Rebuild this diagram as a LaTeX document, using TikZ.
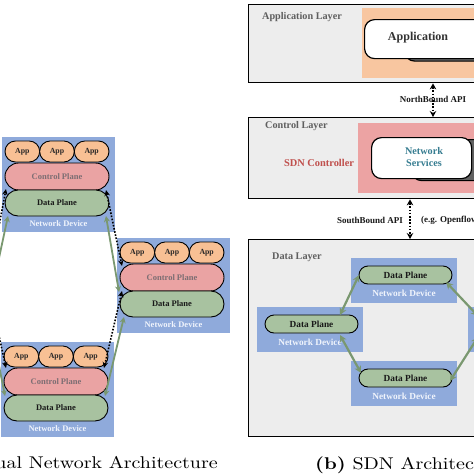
\documentclass[tikz,border=0pt]{standalone}
\usepackage{fontspec}
\usepackage{graphicx}
\newfontfamily\dfont{Liberation Serif}
\usetikzlibrary{shapes.misc,arrows.meta,calc}
\definecolor{devblue}{RGB}{143,170,219}
\definecolor{apporange}{RGB}{248,192,148}
\definecolor{cppink}{RGB}{234,163,163}
\definecolor{dpgreen}{RGB}{168,194,160}
\definecolor{arrgreen}{RGB}{122,152,112}
\definecolor{layergray}{RGB}{237,237,237}
\definecolor{laborange}{RGB}{248,198,160}
\definecolor{labpink}{RGB}{236,163,163}
\definecolor{sdnred}{RGB}{192,80,77}
\definecolor{nstext}{RGB}{55,125,145}
\definecolor{laytext}{RGB}{95,95,95}
\definecolor{cptext}{RGB}{125,110,115}
\definecolor{ndtext}{RGB}{240,244,252}

\newcommand\tradev[3]{%
  \node[devbox, minimum width=113, minimum height=95] (#1) at (#2,#3) {};
  \node[apppill] (#1a1) at ($(#1.north west)+(20.33,14.5)$) {App};
  \node[apppill] (#1a2) at ($(#1.north west)+(55,14.5)$) {App};
  \node[apppill] (#1a3) at ($(#1.north west)+(89.67,14.5)$) {App};
  \node[cppill] (#1c) at ($(#1.north west)+(55,39.5)$) {Control Plane};
  \node[dppill] (#1d) at ($(#1.north west)+(55,66)$) {Data Plane};
  \node[ndlabel] (#1l) at ($(#1.north west)+(56.5,87)$) {Network Device};
}
\newcommand\sdndev[3]{%
  \node[devbox, minimum width=106, minimum height=45] (#1) at (#2,#3) {};
  \node[dlpill] (#1d) at ($(#1.north west)+(54.5,17)$) {Data Plane};
  \node[dllabel] (#1l) at ($(#1.north west)+(53,35)$) {Network Device};
}

\begin{document}
\begin{tikzpicture}[x=1pt,y=-1pt,
  font=\dfont\bfseries,
  devbox/.style={fill=devblue, draw=none, inner sep=0pt, anchor=north west},
  pillbase/.style={rounded rectangle, draw=black, line width=0.9pt, inner sep=0pt},
  apppill/.style={pillbase, fill=apporange, minimum width=34.67, minimum height=21,
    font=\dfont\bfseries\fontsize{7.8}{9}\selectfont, text=black!85},
  cppill/.style={pillbase, fill=cppink, minimum width=104, minimum height=27,
    font=\dfont\bfseries\fontsize{8.5}{10}\selectfont, text=cptext},
  dppill/.style={pillbase, fill=dpgreen, minimum width=104, minimum height=26,
    font=\dfont\bfseries\fontsize{8.5}{10}\selectfont, text=black!90},
  ndlabel/.style={inner sep=0pt, font=\dfont\bfseries\fontsize{8.5}{10}\selectfont, text=ndtext},
  dlpill/.style={pillbase, fill=dpgreen, minimum width=93, minimum height=18,
    font=\dfont\bfseries\fontsize{9.3}{11}\selectfont, text=black!90},
  dllabel/.style={inner sep=0pt, font=\dfont\bfseries\fontsize{9.3}{11}\selectfont, text=ndtext},
  ctrlarrow/.style={{Stealth[length=6pt,width=5.5pt]}-{Stealth[length=6pt,width=5.5pt]},
    line width=1.6pt, dash pattern=on 1.6pt off 1.6pt, black},
  dataarrow/.style={{Stealth[length=6pt,width=6pt]}-{Stealth[length=6pt,width=6pt]},
    line width=1.8pt, arrgreen},
  dlarrow/.style={{Stealth[length=7pt,width=7pt]}-{Stealth[length=7pt,width=7pt]},
    line width=2.2pt, arrgreen},
  apiarrow/.style={{Stealth[length=6pt,width=6.5pt]}-{Stealth[length=6pt,width=6.5pt]},
    line width=1.6pt, dash pattern=on 1.6pt off 1.6pt, black},
  layerbox/.style={fill=layergray, draw=black, line width=1.4pt, anchor=north west, inner sep=0pt},
  laylabel/.style={anchor=west, inner sep=0pt, font=\dfont\bfseries\fontsize{10.2}{12}\selectfont, text=laytext},
  svcbox/.style={rectangle, rounded corners=10pt, draw=black, line width=1.2pt, fill=white,
    anchor=north west, inner sep=0pt},
  svcshadow/.style={svcbox, fill=black!62},
  apilabel/.style={inner sep=0pt, font=\dfont\bfseries\fontsize{9}{11}\selectfont, text=black!90}
]
\useasboundingbox (0,0) rectangle (474,474);
\clip (0,0) rectangle (474,474);
\fill[white] (0,0) rectangle (474,474);

% ---------- left: traditional devices ----------
\tradev{d1}{2}{137}
\tradev{d2}{117}{238}
\tradev{d3}{1}{342}

\coordinate (L1) at (-9,268);
\coordinate (L2) at (-11,290);
\coordinate (L3) at (-10,300);
\coordinate (L4) at (-8,330);

\draw[dataarrow] ($(d1d.center)+(49,13)$) -- ($(d2d.center)+(-53,-12)$);
\draw[dataarrow] ($(d2d.center)+(-48,13)$) -- ($(d3d.center)+(49,-12)$);
\draw[dataarrow] (L3) -- ($(d1d.center)+(-49,13)$);
\draw[dataarrow] (L4) -- ($(d3d.center)+(-51,-12)$);

\draw[ctrlarrow] ($(d1c.center)+(49,13.5)$) -- ($(d2c.center)+(-50,-11.5)$);
\draw[ctrlarrow] ($(d2c.center)+(-50,13.5)$) -- ($(d3c.center)+(48,-13.5)$);
\draw[ctrlarrow] (L1) -- ($(d1c.center)+(-51,12.5)$);
\draw[ctrlarrow] (L2) -- ($(d3c.center)+(-50,-13.5)$);

\node[anchor=base east, inner sep=0pt, font=\normalfont\fontsize{10}{12}\selectfont] (capa) at (218,468)
  {\scalebox{2.0}[1.7]{ual Network Architecture}};

% ---------- right: SDN ----------
\node[layerbox, minimum width=312, minimum height=78] (appl) at (248,4) {};
\node[anchor=north west, fill=laborange, minimum width=200, minimum height=70, inner sep=0pt] (appor) at (362,8) {};
\node[svcshadow, minimum width=176, minimum height=39] (appsh) at (404,21.5) {};
\node[svcbox, minimum width=176, minimum height=39] (appbox) at (364,19) {};
\node[inner sep=0pt, font=\dfont\bfseries\fontsize{12}{14}\selectfont, text=black!80] (apptxt) at (418,38) {Application};
\node[laylabel] (appll) at (262,17) {Application Layer};

\node[layerbox, minimum width=312, minimum height=81] (ctrl) at (248,117) {};
\node[anchor=north west, fill=labpink, minimum width=202, minimum height=70, inner sep=0pt] (ctpk) at (358,123) {};
\node[svcshadow, minimum width=100, minimum height=41] (nssh) at (411,139) {};
\node[svcbox, minimum width=100, minimum height=41] (nsbox) at (371,137) {};
\node[inner sep=0pt, align=center, font=\dfont\bfseries\fontsize{10.2}{12}\selectfont, text=nstext] (nstxt) at (424,157) {Network\\Services};
\node[inner sep=0pt, font=\dfont\bfseries\fontsize{10.4}{12}\selectfont, text=sdnred] (sdn) at (319,163) {SDN Controller};
\node[laylabel] (ctll) at (265,126) {Control Layer};

\node[layerbox, minimum width=312, minimum height=197] (datal) at (248,239) {};
\node[laylabel] (datll) at (272,257) {Data Layer};

\sdndev{s1}{351}{258}
\sdndev{s2}{257}{307}
\sdndev{s3}{351}{361}
% fourth device, almost entirely beyond the right edge: only its blue box shows
\node[devbox, minimum width=106, minimum height=45] (s4) at (468,307) {};
\node[pillbase, fill=dpgreen, minimum width=93, minimum height=18] (s4d) at ($(s4.north west)+(54.5,17)$) {};

\draw[dlarrow] ($(s2d.center)+(28.5,-9)$) -- ($(s1d.center)+(-46.5,0)$);
\draw[dlarrow] ($(s1d.center)+(40.5,7)$) -- ($(s4d.center)+(-44.5,-8)$);
\draw[dlarrow] ($(s2d.center)+(28.5,11)$) -- ($(s3d.center)+(-44.5,-5)$);
\draw[dlarrow] ($(s3d.center)+(44.5,3)$) -- ($(s4d.center)+(-44.5,13)$);

\draw[apiarrow] ($(appl.south west)+(185,0)$) -- ($(ctrl.north west)+(185,0)$);
\node[apilabel] (nb) at (433,99) {NorthBound API};
\draw[apiarrow] ($(ctrl.south west)+(162,0)$) -- ($(datal.north west)+(162,0)$);
\node[apilabel, anchor=east] (sb) at (403,220) {SouthBound API};
\node[apilabel, anchor=west] (eg) at (421,220) {(e.g. Openflow)};

\node[anchor=base west, inner sep=0pt, font=\normalfont\fontsize{10}{12}\selectfont] (capb) at (315,469)
  {\scalebox{2.0}[1.7]{\textbf{(b)} SDN Architec}};
\end{tikzpicture}
\end{document}
